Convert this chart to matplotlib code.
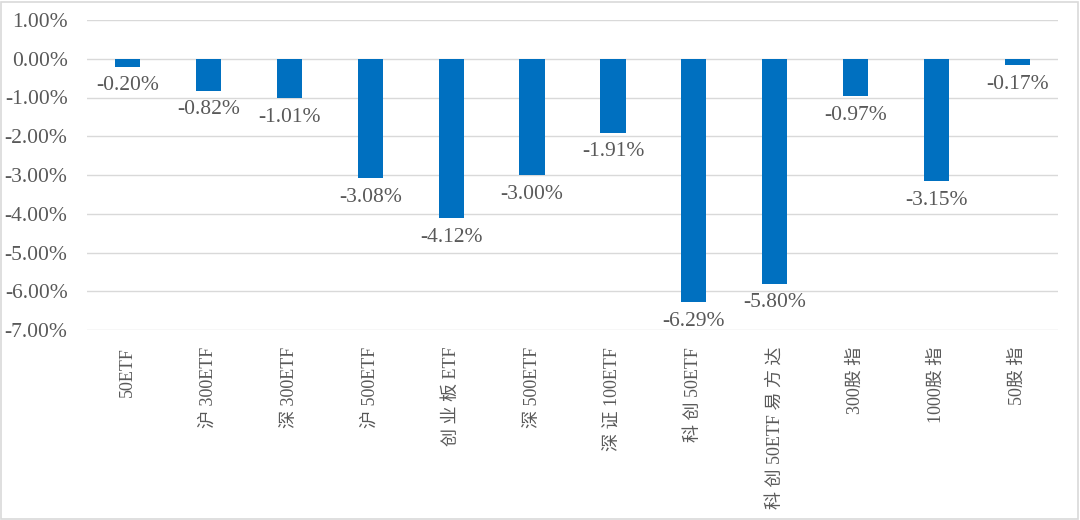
import numpy as np
import matplotlib
matplotlib.use('Agg')
from matplotlib import pyplot as plt
from matplotlib.patches import Rectangle

plt.rcParams['font.family'] = ['Liberation Serif', 'Noto Sans CJK SC']

names = ['50ETF', '沪 300ETF', '深 300ETF', '沪 500ETF', '创 业 板 ETF', '深 500ETF',
         '深 证 100ETF', '科 创 50ETF', '科 创 50ETF 易 方 达', '300股 指', '1000股 指', '50股 指']
values = [-0.20, -0.82, -1.01, -3.08, -4.12, -3.00, -1.91, -6.29, -5.80, -0.97, -3.15, -0.17]
yticks = [1, 0, -1, -2, -3, -4, -5, -6, -7]

grey = '#595959'
fig = plt.figure(figsize=(10.8, 5.2), dpi=100)
ax = fig.add_axes([87/1080, 1 - 330/520, (1058-87)/1080, 310/520])

x = np.arange(len(names))
ax.bar(x, values, width=0.31, color='#0070C0', zorder=3)
for xi, v in zip(x, values):
    ax.annotate('%.2f%%' % v, (xi, v), xytext=(0, -7), textcoords='offset points',
                ha='center', va='top', fontsize=15.5, color=grey)

ax.set_ylim(-7, 1)
ax.set_xlim(-0.5, len(names) - 0.5)
ax.set_yticks(yticks)
ax.set_yticklabels(['%.2f%%' % t for t in yticks], fontsize=15.5, color=grey)
ax.set_xticks(x)
ax.set_xticklabels(names, rotation=90, fontsize=13, color=grey, va='top')
ax.tick_params(axis='y', length=0, pad=14)
ax.tick_params(axis='x', length=0, pad=12)
ax.grid(axis='y', color='#D9D9D9', linewidth=1, zorder=0)
for s in ax.spines.values():
    s.set_visible(False)

fig.patches.append(Rectangle((0.001, 0.002), 0.997, 0.995, transform=fig.transFigure,
                             fill=False, edgecolor='#D9D9D9', linewidth=1.2))
fig.savefig('out.png', dpi=100)
